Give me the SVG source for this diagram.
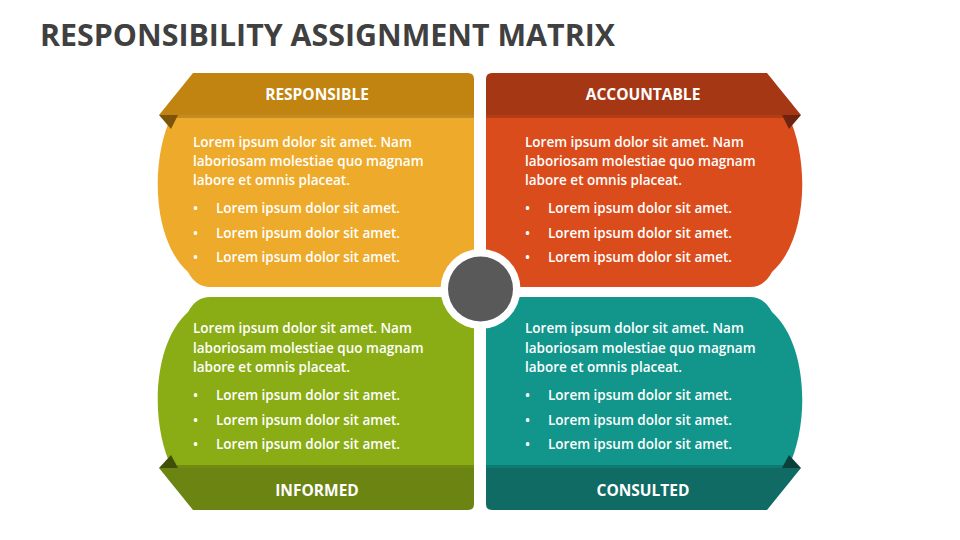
<svg xmlns="http://www.w3.org/2000/svg" width="960" height="540" viewBox="0 0 960 540">
<style>
.title{font-family:"Open Sans","Liberation Sans",sans-serif;font-weight:700;font-size:30px;fill:#404040}
.hd{font-family:"Open Sans","Liberation Sans",sans-serif;font-weight:700;font-size:15.5px;fill:#ffffff;text-anchor:middle}
.tx{font-family:"Open Sans","Liberation Sans",sans-serif;font-weight:600;font-size:13.5px;fill:#ffffff}
.shade{fill:#000000;opacity:0.18}
</style>
<rect width="960" height="540" fill="#ffffff"/>
<text class="title" x="40" y="46" textLength="575" lengthAdjust="spacingAndGlyphs">RESPONSIBILITY ASSIGNMENT MATRIX</text>

<g id="responsible">
  <path d="M172,115 L474,115 L474,287 L210,287 Q196,287 188,272 C152,240 150,160 172,115 Z" fill="#EEAA2A"/>
  <rect class="shade" x="172" y="115" width="302" height="3"/>
  <path d="M193,73 L468,73 Q474,73 474,79 L474,115 L159,115 Z" fill="#C28410"/>
  <polygon points="159,115 178,115 171,129" fill="#7D5408"/>
  <text class="hd" x="317" y="100">RESPONSIBLE</text>
  <text class="tx" x="193" y="147">Lorem ipsum dolor sit amet. Nam</text>
  <text class="tx" x="193" y="166">laboriosam molestiae quo magnam</text>
  <text class="tx" x="193" y="185">labore et omnis placeat.</text>
  <text class="tx" x="193" y="213">•</text><text class="tx" x="216" y="213">Lorem ipsum dolor sit amet.</text>
  <text class="tx" x="193" y="238">•</text><text class="tx" x="216" y="238">Lorem ipsum dolor sit amet.</text>
  <text class="tx" x="193" y="262">•</text><text class="tx" x="216" y="262">Lorem ipsum dolor sit amet.</text>
</g>

<g id="accountable">
  <path d="M788,115 L486,115 L486,287 L750,287 Q764,287 772,272 C808,240 810,160 788,115 Z" fill="#DB4C1C"/>
  <rect class="shade" x="486" y="115" width="302" height="3"/>
  <path d="M767,73 L492,73 Q486,73 486,79 L486,115 L801,115 Z" fill="#A63715"/>
  <polygon points="801,115 782,115 789,129" fill="#6E2410"/>
  <text class="hd" x="643" y="100">ACCOUNTABLE</text>
  <text class="tx" x="525" y="147">Lorem ipsum dolor sit amet. Nam</text>
  <text class="tx" x="525" y="166">laboriosam molestiae quo magnam</text>
  <text class="tx" x="525" y="185">labore et omnis placeat.</text>
  <text class="tx" x="525" y="213">•</text><text class="tx" x="548" y="213">Lorem ipsum dolor sit amet.</text>
  <text class="tx" x="525" y="238">•</text><text class="tx" x="548" y="238">Lorem ipsum dolor sit amet.</text>
  <text class="tx" x="525" y="262">•</text><text class="tx" x="548" y="262">Lorem ipsum dolor sit amet.</text>
</g>

<g id="informed">
  <path d="M172,468 L474,468 L474,297 L210,297 Q196,297 188,312 C152,344 150,424 172,468 Z" fill="#8AAD15"/>
  <path d="M159,468 L474,468 L474,504 Q474,510 468,510 L193,510 Z" fill="#6B8412"/>
  <rect class="shade" x="172" y="465" width="302" height="3"/>
  <polygon points="159,468 178,468 171,455" fill="#3F4F0A"/>
  <text class="hd" x="317" y="496">INFORMED</text>
  <text class="tx" x="193" y="333">Lorem ipsum dolor sit amet. Nam</text>
  <text class="tx" x="193" y="353">laboriosam molestiae quo magnam</text>
  <text class="tx" x="193" y="372">labore et omnis placeat.</text>
  <text class="tx" x="193" y="400">•</text><text class="tx" x="216" y="400">Lorem ipsum dolor sit amet.</text>
  <text class="tx" x="193" y="425">•</text><text class="tx" x="216" y="425">Lorem ipsum dolor sit amet.</text>
  <text class="tx" x="193" y="449">•</text><text class="tx" x="216" y="449">Lorem ipsum dolor sit amet.</text>
</g>

<g id="consulted">
  <path d="M788,468 L486,468 L486,297 L750,297 Q764,297 772,312 C808,344 810,424 788,468 Z" fill="#12968B"/>
  <path d="M801,468 L486,468 L486,504 Q486,510 492,510 L767,510 Z" fill="#0F6B63"/>
  <rect class="shade" x="486" y="465" width="302" height="3"/>
  <polygon points="801,468 782,468 789,455" fill="#0A3F3A"/>
  <text class="hd" x="643" y="496">CONSULTED</text>
  <text class="tx" x="525" y="333">Lorem ipsum dolor sit amet. Nam</text>
  <text class="tx" x="525" y="353">laboriosam molestiae quo magnam</text>
  <text class="tx" x="525" y="372">labore et omnis placeat.</text>
  <text class="tx" x="525" y="400">•</text><text class="tx" x="548" y="400">Lorem ipsum dolor sit amet.</text>
  <text class="tx" x="525" y="425">•</text><text class="tx" x="548" y="425">Lorem ipsum dolor sit amet.</text>
  <text class="tx" x="525" y="449">•</text><text class="tx" x="548" y="449">Lorem ipsum dolor sit amet.</text>
</g>

<g id="center">
  <circle cx="480.5" cy="289" r="40" fill="#ffffff"/>
  <circle cx="480.5" cy="289" r="32.5" fill="#595959"/>
</g>
</svg>
